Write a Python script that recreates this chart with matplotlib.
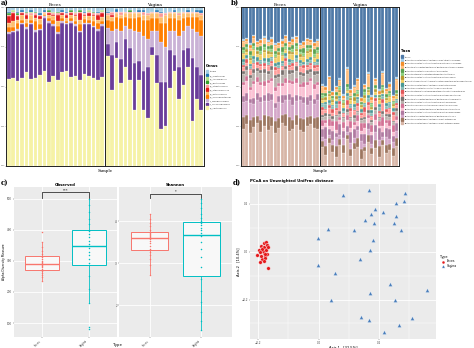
import matplotlib.pyplot as plt
import numpy as np

# ---------------- panel a: genus relative abundance (percent, bottom -> top) ----------------
genus_names = ["Others", "g__Clostridium", "g__Akkermansia", "g__Bacteroides",
               "g__Streptococcus", "g__Staphylococcus", "g__Enterococcus", "g__Corynebacterium",
               "f__Muribaculaceae", "f__Lachnospiraceae", "g__Lactobacillus"]
genus_colors = ["#A6CEE3", "#1F78B4", "#B2DF8A", "#33A02C", "#FB9A99", "#E31A1C",
                "#FDBF6F", "#FF7F00", "#CAB2D6", "#6A3D9A", "#F6F2A6"]

fa_lacto = [56, 56, 54, 56, 60, 55, 57, 59, 61, 53, 57, 55, 59, 61, 56, 58, 54, 59, 57, 56, 54, 56]
fa_lachno = [29, 29, 32, 34, 28, 35, 30, 29, 34, 37, 32, 30, 31, 30, 34, 33, 30, 32, 33, 32, 31, 32]
fa_murib = [1, 1, 1, 1, 1, 1, 1, 1, 1, 1, 1, 1, 1, 1, 1, 1, 1, 1, 1, 1, 1, 1]
fa_coryne = [3, 2, 4, 2, 3, 2, 6, 3, 1, 2, 3, 4, 2, 1, 2, 2, 4, 2, 2, 3, 4, 2]
fa_entero = [3, 4, 2, 3, 2, 3, 2, 3, 1, 2, 2, 3, 2, 2, 2, 3, 3, 2, 2, 3, 2, 3]
fa_staph = [4, 5, 2, 1, 3, 0, 2, 2, 0, 1, 1, 4, 1, 2, 1, 1, 4, 1, 2, 1, 3, 2]
fa_strep = [1, 1, 1, 1, 1, 1, 1, 1, 1, 1, 1, 1, 1, 1, 1, 1, 1, 1, 1, 1, 1, 1]
fa_bact = [1, 0, 1, 0, 1, 0, 1, 0, 0, 1, 0, 1, 0, 0, 1, 0, 1, 0, 0, 1, 0, 0]
fa_akk = [0, 1, 0, 0, 0, 1, 0, 0, 0, 0, 1, 0, 0, 0, 0, 1, 0, 0, 1, 0, 0, 1]
fa_uncl = [1, 0, 1, 1, 0, 1, 0, 1, 1, 0, 0, 0, 1, 1, 0, 0, 0, 1, 0, 0, 1, 0]
fa_others = [3, 2, 3, 2, 3, 2, 3, 4, 2, 2, 3, 3, 2, 3, 2, 3, 2, 3, 2, 3, 3, 2]

va_lacto = [69, 48, 68, 52, 62, 54, 35, 54, 35, 30, 70, 52, 23, 25, 49, 60, 42, 51, 62, 28, 42, 35]
va_lachno = [8, 22, 10, 15, 18, 20, 30, 12, 25, 32, 5, 18, 30, 28, 24, 10, 20, 22, 12, 40, 20, 22]
va_murib = [10, 15, 8, 18, 8, 12, 20, 18, 22, 18, 10, 15, 25, 22, 12, 15, 20, 12, 14, 18, 22, 25]
va_coryne = [5, 6, 8, 8, 6, 7, 8, 10, 10, 12, 8, 8, 12, 15, 8, 8, 10, 8, 6, 8, 10, 10]
va_entero = [3, 3, 2, 2, 2, 3, 3, 2, 3, 3, 3, 3, 4, 5, 3, 3, 3, 3, 2, 2, 2, 3]
va_staph = [0, 1, 0, 0, 0, 0, 0, 0, 0, 0, 0, 0, 0, 0, 0, 0, 0, 0, 0, 0, 0, 0]
va_strep = [1, 2, 1, 2, 1, 1, 1, 1, 2, 1, 1, 1, 2, 1, 1, 1, 1, 1, 1, 1, 1, 1]
va_bact = [0, 0, 0, 0, 0, 1, 0, 0, 0, 0, 0, 0, 0, 0, 0, 0, 0, 0, 0, 0, 0, 0]
va_akk = [0, 0, 0, 0, 0, 0, 0, 0, 0, 0, 0, 0, 0, 0, 0, 0, 1, 0, 0, 0, 0, 0]
va_uncl = [1, 0, 2, 0, 0, 0, 0, 1, 1, 0, 0, 1, 1, 0, 0, 1, 0, 0, 1, 0, 1, 2]
va_others = [3, 3, 1, 3, 3, 2, 3, 2, 2, 4, 3, 2, 3, 4, 3, 2, 3, 3, 2, 3, 2, 2]

# ---------------- panel b: species relative abundance (percent) ----------------
taxa_names = ["Others",
              "Bacteria;Firmicutes;Bacilli;Lactobacillales;Streptococcaceae",
              "Bacteria;Firmicutes;Clostridia;Clostridiales;Ruminococcaceae",
              "Bacteria;Bacteroidetes;Bacteroidia;Bacteroidales;Rikenellaceae",
              "Bacteria;Firmicutes;Erysipelotrichi;Turicibacter",
              "Bacteria;Proteobacteria;Betaproteobacteria;Sutterella",
              "Bacteria;Firmicutes;Clostridia;Clostridiales;Oscillospira",
              "Bacteria;Actinobacteria;Actinobacteria;Bifidobacteriales;Bifidobacterium",
              "Bacteria;Firmicutes;Bacilli;Lactobacillales;Enterococcus",
              "Bacteria;Tenericutes;Mollicutes;Anaeroplasmatales",
              "Bacteria;Proteobacteria;Gammaproteobacteria;Enterobacteriales",
              "Bacteria;Firmicutes;Clostridia;Clostridiales;Dehalobacterium",
              "Bacteria;Bacteroidetes;Bacteroidia;Bacteroidales;Odoribacter",
              "Bacteria;Firmicutes;Clostridia;Clostridiales;Coprococcus",
              "Bacteria;Verrucomicrobia;Verrucomicrobiae;Akkermansia",
              "Bacteria;Bacteroidetes;Bacteroidia;Bacteroidales;Prevotella",
              "Bacteria;Firmicutes;Clostridia;Clostridiales;Lachnospiraceae",
              "Bacteria;Bacteroidetes;Bacteroidia;Bacteroidales;S24-7",
              "Bacteria;Firmicutes;Bacilli;Lactobacillales;Lactobacillus",
              "Bacteria;Firmicutes;Bacilli;Lactobacillales;Lactobacillaceae"]
taxa_colors = ["#4E79A7", "#A0CBE8", "#F28E2B", "#FFBE7D", "#59A14F", "#8CD17D", "#B6992D",
               "#F1CE63", "#499894", "#86BCB6", "#E15759", "#FF9D9A", "#79706E", "#BAB0AC",
               "#D37295", "#FABFD2", "#B07AA1", "#D4A6C8", "#9D7660", "#D7B5A6"]

# Feces, listed bottom -> top (beige first, Others last)
fb = [
    [24, 27, 22, 25, 28, 23, 26, 24, 27, 22, 25, 28, 26, 23, 25, 27, 24, 22, 26, 28, 25, 24],
    [8, 6, 9, 7, 5, 8, 7, 9, 6, 8, 7, 5, 8, 9, 6, 7, 8, 9, 6, 5, 7, 8],
    [10, 9, 11, 8, 10, 12, 9, 10, 11, 9, 10, 8, 9, 11, 10, 9, 12, 10, 8, 10, 9, 11],
    [4, 5, 3, 4, 5, 3, 4, 5, 4, 3, 4, 5, 3, 4, 5, 4, 3, 4, 5, 4, 3, 4],
    [7, 8, 6, 9, 7, 8, 6, 7, 9, 8, 7, 6, 8, 7, 9, 8, 6, 7, 8, 9, 7, 6],
    [2, 3, 2, 2, 3, 2, 3, 2, 2, 3, 2, 2, 3, 2, 2, 3, 2, 3, 2, 2, 3, 2],
    [5, 4, 6, 5, 4, 6, 5, 4, 5, 6, 4, 5, 6, 4, 5, 5, 6, 4, 5, 4, 6, 5],
    [2, 3, 2, 3, 2, 2, 3, 2, 3, 2, 2, 3, 2, 3, 2, 3, 2, 2, 3, 2, 3, 2],
    [3, 2, 3, 3, 2, 3, 2, 3, 2, 3, 3, 2, 3, 2, 3, 2, 3, 3, 2, 3, 2, 3],
    [1, 2, 1, 1, 2, 1, 2, 1, 1, 2, 1, 1, 2, 1, 2, 1, 1, 2, 1, 1, 2, 1],
    [2, 1, 2, 2, 1, 2, 1, 2, 2, 1, 2, 2, 1, 2, 1, 2, 2, 1, 2, 2, 1, 2],
    [2, 2, 1, 2, 2, 1, 2, 2, 1, 2, 2, 1, 2, 2, 1, 2, 2, 1, 2, 2, 1, 2],
    [3, 2, 3, 4, 2, 3, 4, 3, 2, 3, 4, 3, 2, 3, 4, 3, 2, 3, 4, 3, 2, 3],
    [1, 2, 1, 1, 2, 1, 1, 2, 1, 1, 2, 1, 1, 2, 1, 1, 2, 1, 1, 2, 1, 1],
    [2, 1, 2, 2, 1, 2, 2, 1, 2, 2, 1, 2, 2, 1, 2, 2, 1, 2, 2, 1, 2, 2],
    [2, 2, 3, 2, 2, 3, 2, 2, 3, 2, 2, 3, 2, 2, 3, 2, 2, 3, 2, 2, 3, 2],
    [3, 2, 2, 3, 2, 2, 3, 2, 2, 3, 2, 2, 3, 2, 2, 3, 2, 2, 3, 2, 2, 3],
    [1, 1, 2, 1, 1, 2, 1, 1, 2, 1, 1, 2, 1, 1, 2, 1, 1, 2, 1, 1, 2, 1],
    [1, 1, 1, 1, 1, 1, 1, 1, 1, 1, 1, 1, 1, 1, 1, 1, 1, 1, 1, 1, 1, 1],
    [21, 20, 24, 18, 22, 21, 19, 22, 20, 24, 23, 21, 18, 22, 20, 19, 24, 22, 20, 21, 23, 21],
]
# Vagina, listed bottom -> top
vb = [
    [12, 8, 15, 10, 6, 14, 9, 18, 7, 11, 13, 5, 10, 16, 8, 12, 6, 14, 9, 11, 7, 13],
    [4, 6, 3, 5, 7, 4, 6, 3, 5, 4, 6, 7, 3, 5, 4, 6, 8, 3, 5, 4, 6, 5],
    [3, 5, 2, 4, 6, 3, 5, 2, 4, 3, 5, 6, 2, 4, 3, 5, 4, 2, 6, 3, 4, 5],
    [5, 8, 4, 6, 3, 7, 5, 4, 8, 6, 3, 5, 7, 4, 6, 5, 8, 3, 6, 7, 4, 5],
    [2, 3, 2, 4, 2, 3, 2, 4, 3, 2, 3, 2, 4, 3, 2, 3, 2, 4, 3, 2, 3, 2],
    [4, 2, 5, 3, 6, 2, 4, 3, 5, 2, 4, 6, 3, 2, 5, 4, 3, 6, 2, 4, 5, 3],
    [2, 3, 2, 2, 3, 2, 3, 2, 2, 3, 2, 2, 3, 2, 2, 3, 2, 2, 3, 2, 2, 3],
    [1, 2, 1, 2, 1, 2, 1, 2, 1, 2, 1, 2, 1, 2, 1, 2, 1, 2, 1, 2, 1, 2],
    [3, 2, 4, 2, 3, 5, 2, 3, 4, 2, 3, 2, 4, 3, 2, 4, 3, 5, 2, 3, 4, 2],
    [2, 1, 2, 3, 1, 2, 1, 3, 2, 1, 2, 1, 3, 2, 1, 2, 1, 3, 2, 1, 2, 1],
    [2, 3, 1, 2, 3, 2, 1, 3, 2, 2, 3, 1, 2, 3, 2, 1, 3, 2, 2, 3, 1, 2],
    [1, 2, 2, 1, 2, 1, 2, 2, 1, 2, 1, 2, 1, 2, 2, 1, 2, 1, 2, 1, 2, 1],
    [2, 1, 3, 2, 1, 3, 2, 1, 3, 2, 1, 2, 3, 2, 1, 2, 3, 1, 2, 3, 1, 2],
    [1, 2, 1, 1, 2, 1, 2, 1, 1, 2, 1, 1, 2, 1, 1, 2, 1, 2, 1, 1, 2, 1],
    [2, 1, 1, 2, 1, 2, 1, 2, 1, 1, 2, 1, 2, 1, 2, 1, 1, 2, 1, 2, 1, 1],
    [1, 2, 1, 1, 2, 1, 1, 2, 1, 2, 1, 1, 2, 1, 1, 2, 1, 1, 2, 1, 1, 2],
    [4, 2, 8, 1, 2, 3, 1, 9, 2, 3, 6, 1, 2, 8, 2, 3, 1, 7, 2, 3, 2, 6],
    [1, 2, 1, 2, 1, 1, 2, 1, 2, 1, 1, 2, 1, 1, 2, 1, 2, 1, 1, 2, 1, 1],
    [1, 1, 1, 1, 1, 1, 1, 1, 1, 1, 1, 1, 1, 1, 1, 1, 1, 1, 1, 1, 1, 1],
    [50, 55, 45, 60, 52, 48, 62, 40, 58, 50, 47, 65, 52, 44, 60, 48, 57, 42, 55, 50, 62, 46],
]

# ---------------- panel c: alpha diversity ----------------
obs_feces = [235, 248, 256, 262, 268, 270, 274, 279, 283, 287, 290, 292, 296, 300, 305,
             311, 316, 322, 333, 345, 361, 393]
obs_vagina = [80, 87, 165, 210, 250, 286, 292, 305, 318, 330, 342, 354, 365, 378, 388,
              395, 400, 418, 435, 458, 480, 500]
sha_feces = [2.71, 2.95, 3.10, 3.20, 3.27, 3.31, 3.35, 3.42, 3.48, 3.53, 3.58, 3.62, 3.64,
             3.66, 3.69, 3.72, 3.75, 3.80, 3.88, 3.95, 4.05, 4.17]
sha_vagina = [1.41, 1.62, 1.85, 2.08, 2.35, 2.62, 2.92, 3.15, 3.33, 3.50, 3.64, 3.72, 3.78,
              3.84, 3.90, 3.96, 4.00, 4.08, 4.18, 4.30, 4.42, 4.53]

# ---------------- panel d: PCoA ----------------
pc_feces_x = [-0.205, -0.198, -0.192, -0.188, -0.185, -0.182, -0.180, -0.178, -0.176, -0.174,
              -0.172, -0.170, -0.195, -0.190, -0.186, -0.183, -0.179, -0.175, -0.171, -0.188,
              -0.181, -0.177, -0.168, -0.196, -0.167]
pc_feces_y = [-0.012, 0.008, 0.022, -0.030, 0.015, -0.005, 0.035, -0.020, 0.010, 0.040,
              -0.010, 0.028, -0.045, -0.018, 0.002, 0.020, -0.028, 0.005, 0.030, 0.012,
              -0.040, -0.008, 0.018, 0.000, -0.067]
pc_vag_x = [0.081, 0.167, 0.289, 0.259, 0.283, 0.187, 0.176, 0.213, 0.259, 0.154, 0.184,
            0.250, 0.032, 0.117, 0.276, -0.003, 0.182, 0.173, 0.138, -0.001, 0.056, 0.238,
            0.170, 0.360, 0.041, 0.253, 0.142, 0.167, 0.311, 0.268, 0.217]
pc_vag_y = [0.238, 0.256, 0.244, 0.203, 0.211, 0.178, 0.158, 0.165, 0.149, 0.133, 0.121,
            0.122, 0.096, 0.090, 0.092, 0.056, 0.049, 0.006, -0.029, -0.056, -0.089, -0.133,
            -0.171, -0.160, -0.201, -0.200, -0.274, -0.286, -0.279, -0.308, -0.336]

FS = 2.0
fig = plt.figure(figsize=(4.74, 3.48), dpi=100)


def px_axes(x0, y0, x1, y1):
    return fig.add_axes([x0 / 474, 1 - y1 / 348, (x1 - x0) / 474, (y1 - y0) / 348])


def stacked(ax, layers, colors):
    arr = np.array(layers, dtype=float)
    arr = arr / arr.sum(axis=0)
    x = np.arange(arr.shape[1])
    bottom = np.zeros(arr.shape[1])
    for row, c in zip(arr, colors):
        ax.bar(x, row, bottom=bottom, width=0.82, color=c, edgecolor="white", linewidth=0.15)
        bottom += row
    ax.set_xlim(-0.6, arr.shape[1] - 0.4)
    ax.set_ylim(0, 1.0)
    ax.set_xticks([])
    for s in ax.spines.values():
        s.set_linewidth(0.7)
        s.set_color("#222222")


def bar_panel(x0, xm, x1, feces, vagina, colors, show_ylabel):
    ax1 = px_axes(x0, 7, xm, 166)
    ax2 = px_axes(xm, 7, x1, 166)
    stacked(ax1, feces, colors)
    stacked(ax2, vagina, colors)
    ax1.set_yticks([0, 0.25, 0.5, 0.75, 1.0])
    ax1.set_yticklabels(["0.00", "0.25", "0.50", "0.75", "1.00"], fontsize=1.4, color="#555555")
    ax1.tick_params(axis="y", length=0.6, width=0.3, pad=0.2)
    ax2.set_yticks([])
    ax1.set_title("Feces", fontsize=3.2, pad=0.6, family="serif")
    ax2.set_title("Vagina", fontsize=3.2, pad=0.6, family="serif")
    fig.text(xm / 474, 1 - 172 / 348, "Sample", fontsize=2.8, ha="center", family="serif")
    if show_ylabel:
        ax1.set_ylabel("Relative Abundance", fontsize=1.4, labelpad=0.1)


# panel a (colors listed top -> bottom, layers bottom -> top)
fa = [fa_lacto, fa_lachno, fa_murib, fa_coryne, fa_entero, fa_staph, fa_strep, fa_bact,
      fa_akk, fa_uncl, fa_others]
va = [va_lacto, va_lachno, va_murib, va_coryne, va_entero, va_staph, va_strep, va_bact,
      va_akk, va_uncl, va_others]
bar_panel(6, 105, 204, fa, va, genus_colors[::-1], True)
fig.text(206 / 474, 1 - 67 / 348, "Genus", fontsize=2.6, fontweight="bold")
for i, (n, c) in enumerate(zip(genus_names, genus_colors)):
    yy = 70 + i * 3.6
    fig.patches.append(plt.Rectangle((206 / 474, 1 - (yy + 2.6) / 348), 2.4 / 474, 2.4 / 348,
                                     transform=fig.transFigure, color=c))
    fig.text(210 / 474, 1 - (yy + 2.5) / 348, n, fontsize=1.5, color="#333333")

# panel b
bar_panel(241, 320, 399, fb, vb, taxa_colors[::-1], False)
fig.text(401 / 474, 1 - 52 / 348, "Taxa", fontsize=2.6, fontweight="bold")
for i, (n, c) in enumerate(zip(taxa_names, taxa_colors)):
    yy = 55 + i * 3.5
    fig.patches.append(plt.Rectangle((401 / 474, 1 - (yy + 2.6) / 348), 2.4 / 474, 2.4 / 348,
                                     transform=fig.transFigure, color=c))
    fig.text(405 / 474, 1 - (yy + 2.5) / 348, n, fontsize=1.4, color="#333333")


# ---------------- panel c ----------------
def gg_axes(ax):
    ax.set_facecolor("#EBEBEB")
    for s in ax.spines.values():
        s.set_visible(False)
    ax.grid(True, color="white", linewidth=0.6)
    ax.set_axisbelow(True)
    ax.tick_params(length=1.0, width=0.3, labelsize=FS, pad=0.4, colors="#444444")


group_cols = ["#F8766D", "#00BFC4"]
panels_c = [(14, 117, "Observed", [obs_feces, obs_vagina], (55, 538), [100, 200, 300, 400, 500],
             (504, 521), "***"),
            (119, 232, "Shannon", [sha_feces, sha_vagina], (1.25, 4.81), [2, 3, 4],
             (4.55, 4.65), "*")]
for x0, x1, name, data, ylim, yt, br, sig in panels_c:
    ax = px_axes(x0, 187, x1, 337)
    gg_axes(ax)
    bp = ax.boxplot(data, positions=[1, 2], widths=0.72, patch_artist=True, showfliers=False,
                    whis=1.5)
    for i, col in enumerate(group_cols):
        bp["boxes"][i].set(facecolor="#F8F8F8", edgecolor=col, linewidth=0.7)
        bp["medians"][i].set(color=col, linewidth=1.0)
        for w in bp["whiskers"][2 * i:2 * i + 2]:
            w.set(color=col, linewidth=0.6)
        for cp in bp["caps"][2 * i:2 * i + 2]:
            cp.set(visible=False)
        ax.scatter(np.full(len(data[i]), i + 1), data[i], s=1.2, color=col, linewidths=0, zorder=3)
    ax.plot([1, 1, 2, 2], [br[0], br[1], br[1], br[0]], color="#333333", linewidth=0.6)
    ax.text(1.5, br[1], sig, fontsize=2.6, ha="center", va="bottom")
    ax.set_xlim(0.4, 2.6)
    ax.set_ylim(*ylim)
    ax.set_yticks(yt)
    ax.set_xticks([1, 2])
    ax.set_xticklabels(["Feces", "Vagina"], rotation=45, ha="right")
    ax.set_title(name, fontsize=2.8, pad=0.8, fontweight="bold")
    if name == "Observed":
        ax.set_ylabel("Alpha Diversity Measure", fontsize=2.2, labelpad=0.6)
fig.text(117 / 474, 1 - 346 / 348, "Type", fontsize=2.8, ha="center")

# ---------------- panel d ----------------
ax = px_axes(250, 184, 436, 339)
gg_axes(ax)
ax.scatter(pc_feces_x, pc_feces_y, s=7, marker="o", color="#E41A1C", edgecolors="white",
           linewidths=0.25, label="Feces", zorder=3)
ax.scatter(pc_vag_x, pc_vag_y, s=9, marker="^", color="#4A7EBB", edgecolors="white",
           linewidths=0.25, label="Vagina", zorder=3)
ax.set_xlim(-0.228, 0.391)
ax.set_ylim(-0.365, 0.283)
ax.set_xticks([-0.2, 0.0, 0.2])
ax.set_yticks([-0.2, 0.0, 0.2])
ax.set_xticks([-0.1, 0.1, 0.3], minor=True)
ax.set_yticks([-0.3, -0.1, 0.1], minor=True)
ax.grid(True, which="minor", color="white", linewidth=0.3)
ax.tick_params(which="minor", length=0)
ax.set_xlabel("Axis.1   [32.5%]", fontsize=2.6, labelpad=0.4)
ax.set_ylabel("Axis.2   [10.4%]", fontsize=2.6, labelpad=1)
ax.set_title("PCoA on Unweighted UniFrac distance", fontsize=2.8, loc="left", pad=1.5,
             fontweight="bold")
leg = ax.legend(title="Type", fontsize=2.2, title_fontsize=2.4, loc="center left",
                bbox_to_anchor=(1.01, 0.5), frameon=False, handletextpad=0.2,
                borderpad=0.2, labelspacing=0.2, markerscale=0.8)
leg._legend_box.align = "left"

# panel letters
for x, y, s in [(1, 5, "a)"), (231, 5, "b)"), (1, 185, "c)"), (233, 185, "d)")]:
    fig.text(x / 474, 1 - y / 348, s, fontsize=5, fontweight="bold", family="serif")

fig.savefig("out.png", dpi=100)
